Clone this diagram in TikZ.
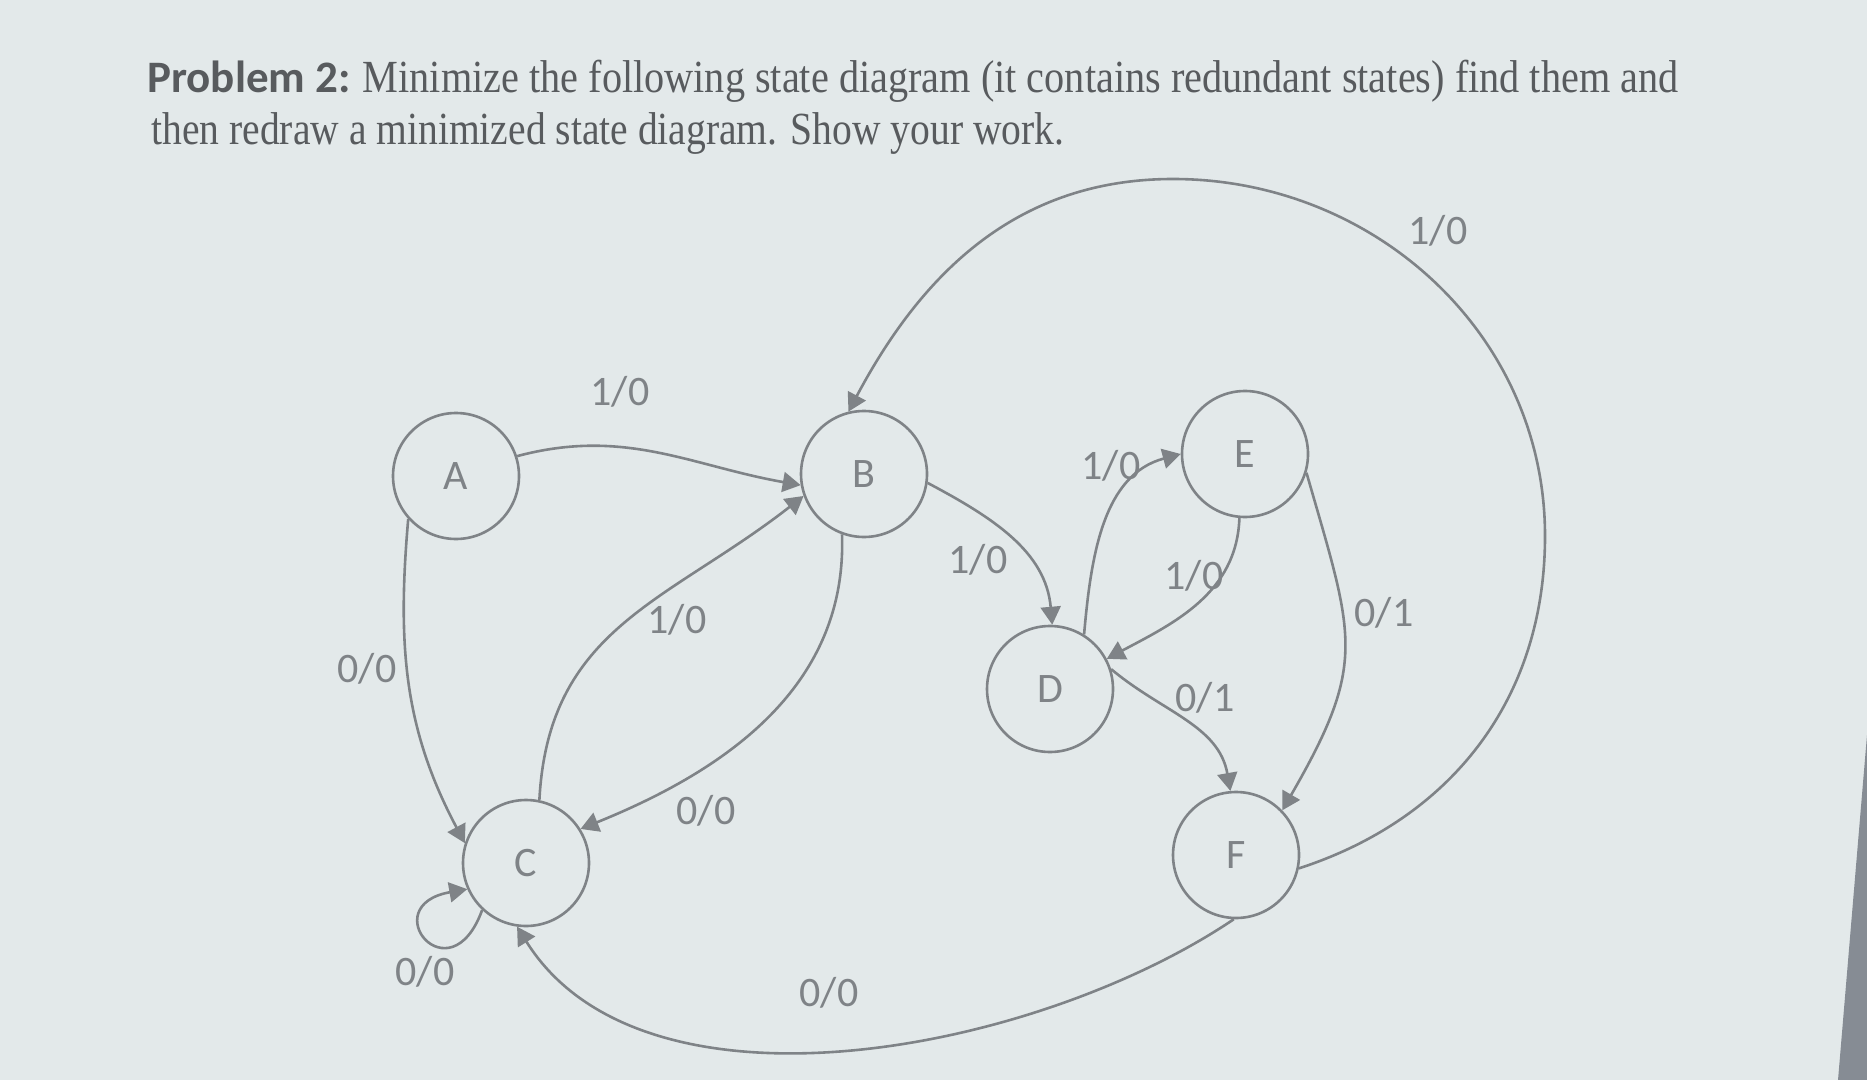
\documentclass[tikz,border=0pt]{standalone}
\usepackage{fontspec}
\setmainfont{Liberation Serif}
\setsansfont{Carlito}
\usepackage{tikz}
\usetikzlibrary{arrows.meta}

\definecolor{screen}{HTML}{E3E9EA}
\definecolor{ink}{HTML}{7F8387}
\definecolor{titleink}{HTML}{585B5E}
\definecolor{bezel}{HTML}{868C94}

\tikzset{
  state/.style={circle, draw=ink, line width=1.3pt, minimum size=63pt, inner sep=0pt,
    text=ink, font=\sffamily\fontsize{21}{21}\selectfont},
  trans/.style={draw=ink, line width=1.3pt, -{Triangle[length=9pt,width=10pt]}},
  lbl/.style={text=ink, font=\sffamily\fontsize{21}{21}\selectfont},
}

\begin{document}
\begin{tikzpicture}[x=0.5pt, y=0.5pt]

        % screen
        \useasboundingbox (0,0) rectangle (1867,-1080);
        \fill[screen] (0,0) rectangle (1867,-1080);
        \fill[bezel] (1867,-735) -- (1838,-1080) -- (1867,-1080) -- cycle;

        % problem text
        \node[anchor=base west, inner sep=0pt, text=titleink] (title1) at (147,-93)
            {{\sffamily\bfseries\fontsize{22.5}{27}\selectfont Problem 2:}\hspace{6pt}\scalebox{0.875}[1]{\fontsize{23}{27}\selectfont Minimize the following state diagram (it contains redundant states) find them and}};
        \node[anchor=base west, inner sep=0pt, text=titleink] (title2) at (151,-145)
            {\scalebox{0.86}[1]{\fontsize{23}{27}\selectfont then redraw a minimized state diagram. Show your work.}};

        % states
        \node[state] (A) at (456,-476) {A};
        \node[state] (B) at (864,-474) {B};
        \node[state] (C) at (526,-863) {C};
        \node[state] (D) at (1050,-689) {D};
        \node[state] (E) at (1245,-454) {E};
        \node[state] (F) at (1236,-855) {F};

        % transitions
        \draw[trans] (A.18) to[out=15, in=170] (B.190);
        \draw[trans] (C.78) to[out=87, in=218, looseness=1.1] (B.200);
        \draw[trans] (B.250) to[out=272, in=22] (C.32);
        \draw[trans] (A.222) to[out=265, in=118] (C.162);
        \draw[trans] (C.227) .. controls +(250:95) and +(190:95) .. (C.204);
        \draw[trans] (F.268) to[out=214, in=302, looseness=0.85] (C.262);
        \draw[trans] (B.-8) to[out=-28, in=95] (D.88);
        \draw[trans] (D.58) to[out=85, in=195] (E.180);
        \draw[trans] (E.265) to[out=268, in=28] (D.28);
        \draw[trans] (D.18) to[out=-40, in=100] (F.95);
        \draw[trans] (E.-17) to[out=-74, in=60, looseness=1.3] (F.44);
        \coordinate (fbturn) at (1545,-536);
        \coordinate (fbtop) at (1173,-179);
        \draw[trans] (F.-12) to[out=18, in=-90] (fbturn) to[out=90, in=0] (fbtop) to[out=180, in=62] (B.104);

        % inputs / outputs
        \node[lbl] (lab-ab) at (620,-392) {1/0};
        \node[lbl] (lab-cb) at (677,-620) {1/0};
        \node[lbl] (lab-bc) at (706,-811) {0/0};
        \node[lbl] (lab-ac) at (367,-669) {0/0};
        \node[lbl] (lab-cc) at (425,-972) {0/0};
        \node[lbl] (lab-fc) at (829,-993) {0/0};
        \node[lbl] (lab-bd) at (978,-560) {1/0};
        \node[lbl] (lab-de) at (1111,-466) {1/0};
        \node[lbl] (lab-ed) at (1194,-576) {1/0};
        \node[lbl] (lab-df) at (1205,-698) {0/1};
        \node[lbl] (lab-ef) at (1384,-613) {0/1};
        \node[lbl] (lab-fb) at (1438,-231) {1/0};
    \end{tikzpicture}
\end{document}
